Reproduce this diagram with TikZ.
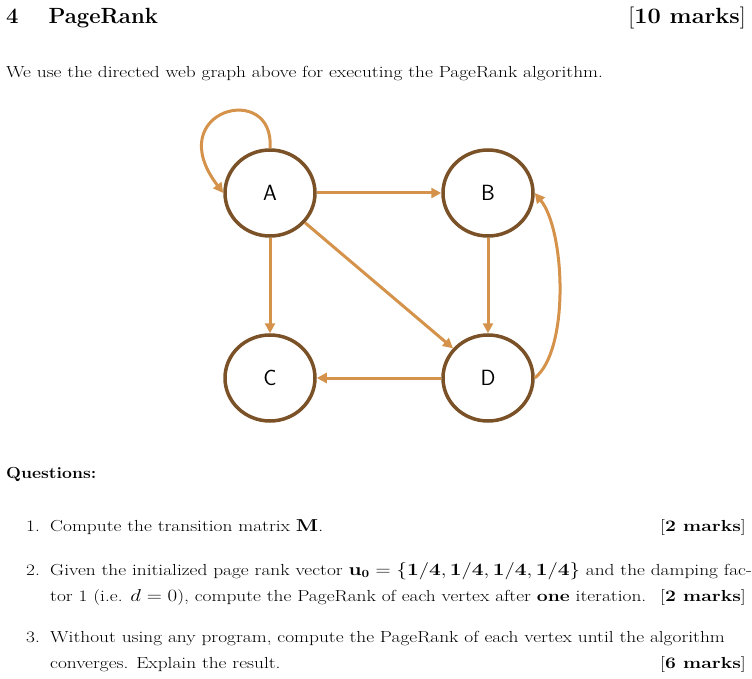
\documentclass[tikz,border=0pt]{standalone}
\usetikzlibrary{arrows.meta,shapes.geometric}
\definecolor{nodebrown}{HTML}{7B5127}
\definecolor{edgeor}{HTML}{D4924A}
\newcommand{\wide}[1]{\scalebox{1.21}[1]{#1}}
\begin{document}
\begin{tikzpicture}[x=1pt,y=-1pt,
  vert/.style={draw=nodebrown,line width=3.5pt,ellipse,minimum width=90pt,minimum height=86pt,font=\sffamily\fontsize{22}{24}\selectfont,inner sep=0pt},
  edge/.style={draw=edgeor,line width=3pt,-{Triangle[length=10pt,width=10pt]}},
  txt/.style={anchor=base west,font=\fontsize{16}{19}\selectfont,inner sep=0pt},
  txtr/.style={anchor=base east,font=\fontsize{16}{19}\selectfont,inner sep=0pt}]
\useasboundingbox (0,0) rectangle (752,679);
\node[anchor=base west,inner sep=0pt,font=\bfseries\fontsize{22}{26}\selectfont] (title) at (6,24) {4\hspace{30pt}PageRank};
\node[anchor=base east,inner sep=0pt,font=\fontsize{22}{26}\selectfont] (marks) at (746,24) {\scalebox{1.07}[1]{[\textbf{10 marks}]}};
\node[txt] (intro) at (6,78) {\wide{We use the directed web graph above for executing the PageRank algorithm.}};
\node[vert] (A) at (270,193) {A};
\node[vert] (B) at (488,193) {B};
\node[vert] (C) at (270,378) {C};
\node[vert] (D) at (488,378) {D};
\draw[edge] (A.north) .. controls (275,80) and (160,110) .. (A.west);
\draw[edge] (A) -- (B);
\draw[edge] (A) -- (C);
\draw[edge] (A) -- (D);
\draw[edge] (B) -- (D);
\draw[edge] (D) -- (C);
\draw[edge] (D.east) .. controls (570,350) and (565,230) .. (B.east);
\node[anchor=base west,inner sep=0pt,font=\bfseries\fontsize{16}{19}\selectfont] (q) at (6,478) {\scalebox{1.1}[1]{Questions:}};
\node[txt] (n1) at (26,531) {\wide{1.}};
\node[txt] (q1) at (50,531) {\wide{Compute the transition matrix $\mathbf{M}$.}};
\node[txtr] (m1) at (746,531) {\wide{[\textbf{2 marks}]}};
\node[txt] (n2) at (26,575) {\wide{2.}};
\node[txt] (q2) at (50,575) {\wide{Given the initialized page rank vector $\mathbf{u_0}=\{\mathbf{1/4,1/4,1/4,1/4}\}$ and the damping fac-}};
\node[txt] (q2b) at (50,601) {\wide{tor 1 (i.e. $d=0$), compute the PageRank of each vertex after \textbf{one} iteration.}};
\node[txtr] (m2) at (746,601) {\wide{[\textbf{2 marks}]}};
\node[txt] (n3) at (26,642) {\wide{3.}};
\node[txt] (q3) at (50,642) {\wide{Without using any program, compute the PageRank of each vertex until the algorithm}};
\node[txt] (q3b) at (50,668) {\wide{converges. Explain the result.}};
\node[txtr] (m3) at (746,668) {\wide{[\textbf{6 marks}]}};
\end{tikzpicture}
\end{document}
